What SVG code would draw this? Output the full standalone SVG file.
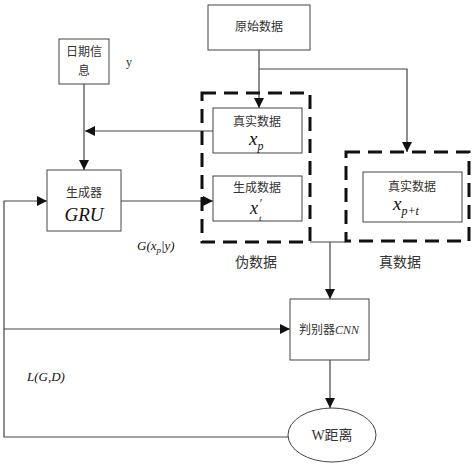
<svg xmlns="http://www.w3.org/2000/svg" width="474" height="467" viewBox="0 0 474 467">
<defs>
<marker id="arr" viewBox="0 0 10 10" refX="10" refY="5" markerWidth="10" markerHeight="10" markerUnits="userSpaceOnUse" orient="auto">
<path d="M0,0 L10,5 L0,10 z" fill="#111"/>
</marker>
<style>
.box{fill:#fff;stroke:#444;stroke-width:1}
.dash{fill:none;stroke:#111;stroke-width:3;stroke-dasharray:14 8}
.ln{fill:none;stroke:#444;stroke-width:1.2}
.cn{font-family:"Noto Sans CJK SC","Liberation Sans",sans-serif;font-size:12px;fill:#333;text-anchor:middle}
.cs{font-family:"Liberation Serif","Noto Sans CJK SC",serif;font-size:14px;fill:#333;text-anchor:middle}
.m{font-family:"Liberation Serif",serif;font-style:italic;fill:#111}
</style>
</defs>
<rect width="474" height="467" fill="#fff"/>
<g id="connectors">
<path class="ln" d="M84,84 V170" marker-end="url(#arr)"/>
<path class="ln" d="M213,131 H85" marker-end="url(#arr)"/>
<path class="ln" d="M121,201 H213" marker-end="url(#arr)"/>
<path class="ln" d="M259,50 V108" marker-end="url(#arr)"/>
<path class="ln" d="M259,69 H407 V152" marker-end="url(#arr)"/>
<path class="ln" d="M310,242 H346"/>
<path class="ln" d="M330,242 V299" marker-end="url(#arr)"/>
<path class="ln" d="M330,360 V408" marker-end="url(#arr)"/>
<path class="ln" d="M288,437 H4 V201 H47" marker-end="url(#arr)"/>
<path class="ln" d="M4,329 H290" marker-end="url(#arr)"/>
</g>
<g id="fake-group">
<rect class="dash" x="202" y="93" width="108" height="149"/>
<text class="cs" x="256" y="267">伪数据</text>
</g>
<g id="real-group">
<rect class="dash" x="346" y="152" width="123" height="89"/>
<text class="cs" x="400" y="267">真数据</text>
</g>
<g id="date">
<rect class="box" x="59" y="39" width="50" height="45"/>
<text class="cn" x="84" y="56">日期信</text>
<text class="cn" x="84" y="75">息</text>
<text x="126" y="66" font-family="Liberation Serif,serif" font-size="12" fill="#333">y</text>
</g>
<g id="raw">
<rect class="box" x="208" y="5" width="102" height="45"/>
<text class="cn" x="259" y="31">原始数据</text>
</g>
<g id="generator">
<rect class="box" x="47" y="170" width="74" height="61"/>
<text class="cn" x="84" y="197">生成器</text>
<text class="m" x="84" y="221" font-size="19" text-anchor="middle">GRU</text>
</g>
<g id="real-xp">
<rect class="box" x="213" y="108" width="89" height="45"/>
<text class="cn" x="257" y="126">真实数据</text>
<text class="m" x="249" y="145" font-size="19">x<tspan font-size="12" dy="5">p</tspan></text>
</g>
<g id="gen-xt">
<rect class="box" x="213" y="176" width="89" height="45"/>
<text class="cn" x="257" y="192">生成数据</text>
<text class="m" x="250" y="214" font-size="18">x</text>
<text class="m" x="259" y="207" font-size="12">′</text>
<text class="m" x="259" y="221" font-size="9">t</text>
</g>
<g id="real-xpt">
<rect class="box" x="363" y="172" width="99" height="50"/>
<text class="cn" x="412" y="191">真实数据</text>
<text class="m" x="393" y="210" font-size="19">x<tspan font-size="12" dy="5">p+t</tspan></text>
</g>
<g id="discriminator">
<rect class="box" x="290" y="299" width="79" height="61"/>
<text x="329" y="334" font-size="12" fill="#333" text-anchor="middle" font-family="Noto Sans CJK SC,sans-serif">判别器<tspan font-family="Liberation Serif,serif" font-style="italic">CNN</tspan></text>
</g>
<g id="wdist">
<ellipse cx="332" cy="435" rx="44" ry="27" fill="#fff" stroke="#444" stroke-width="1"/>
<text class="cs" x="332" y="440">W距离</text>
</g>
<g id="labels">
<text class="m" x="137" y="250" font-size="13" fill="#333">G(x<tspan font-size="9" dy="3">p</tspan><tspan dy="-3">|y)</tspan></text>
<text class="m" x="27" y="381" font-size="13" fill="#333">L(G,D)</text>
</g>
</svg>
